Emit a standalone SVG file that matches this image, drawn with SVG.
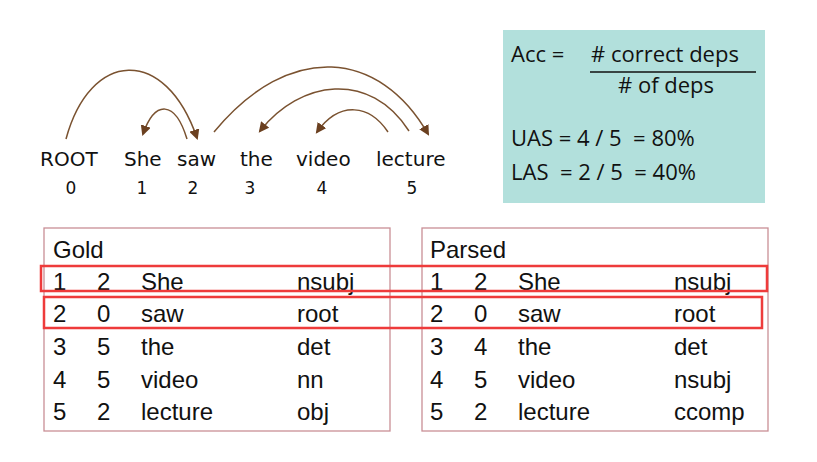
<svg xmlns="http://www.w3.org/2000/svg" width="817" height="462" viewBox="0 0 817 462">
<style>
.w{font-family:"DejaVu Sans",sans-serif;font-size:20px;fill:#111}
.n{font-family:"DejaVu Sans",sans-serif;font-size:17px;fill:#111;text-anchor:middle}
.t{font-family:"Liberation Sans",Arial,sans-serif;font-size:24px;fill:#111}
.a{font-family:"Open Sans",sans-serif;font-size:22px;fill:#111}
.arc{fill:none;stroke:#7a5230;stroke-width:1.5;marker-end:url(#ah)}
.box{fill:#fff;stroke:#c98f96;stroke-width:1.3}
.hl{fill:none;stroke:#ee3b3b;stroke-width:2.5}
</style>
<defs><marker id="ah" viewBox="0 0 10 10" refX="8" refY="5" markerWidth="7" markerHeight="7" orient="auto"><path d="M0,0L10,5L0,10z" fill="#6b4020"/></marker></defs>
<rect width="817" height="462" fill="#fff"/>
<g id="words">
<text class="w" x="40" y="166">ROOT</text><text class="w" x="124" y="166">She</text><text class="w" x="177" y="166">saw</text><text class="w" x="240" y="166">the</text><text class="w" x="296" y="166">video</text><text class="w" x="376" y="166">lecture</text>
<text class="n" x="71" y="194">0</text><text class="n" x="142" y="194">1</text><text class="n" x="193" y="194">2</text><text class="n" x="250" y="194">3</text><text class="n" x="322" y="194">4</text><text class="n" x="412" y="194">5</text>
</g>
<g id="connectors">
<path class="arc" d="M66,139 C90,50 165,45 197,138"/>
<path class="arc" d="M187,139 C175,100 155,100 143,134"/>
<path class="arc" d="M214,132 C290,40 380,50 428,134"/>
<path class="arc" d="M409,131 C370,70 300,80 260,131"/>
<path class="arc" d="M388,132 C370,105 340,100 317,132"/>
</g>
<g id="acc">
<rect x="503" y="30" width="262" height="173" fill="#b2e0dc"/>
<text class="a" x="511" y="62">Acc  =</text>
<text class="a" x="591" y="62"># correct deps</text>
<line x1="590" y1="72" x2="756" y2="72" stroke="#111" stroke-width="1.5"/>
<text class="a" x="666" y="93" text-anchor="middle"># of deps</text>
<text class="a" x="511" y="146" xml:space="preserve">UAS = 4 / 5  = 80%</text>
<text class="a" x="511" y="180" xml:space="preserve">LAS  = 2 / 5  = 40%</text>
</g>
<g id="gold">
<rect class="box" x="44" y="228" width="346" height="203"/>
<text class="t" x="53" y="258">Gold</text>
<g class="t"><text x="53" y="290">1</text><text x="97" y="290">2</text><text x="141" y="290">She</text><text x="297" y="290">nsubj</text>
<text x="53" y="322">2</text><text x="97" y="322">0</text><text x="141" y="322">saw</text><text x="297" y="322">root</text>
<text x="53" y="355">3</text><text x="97" y="355">5</text><text x="141" y="355">the</text><text x="297" y="355">det</text>
<text x="53" y="388">4</text><text x="97" y="388">5</text><text x="141" y="388">video</text><text x="297" y="388">nn</text>
<text x="53" y="420">5</text><text x="97" y="420">2</text><text x="141" y="420">lecture</text><text x="297" y="420">obj</text></g>
</g>
<g id="parsed">
<rect class="box" x="422" y="228" width="346" height="203"/>
<text class="t" x="430" y="258">Parsed</text>
<g class="t"><text x="430" y="290">1</text><text x="474" y="290">2</text><text x="518" y="290">She</text><text x="674" y="290">nsubj</text>
<text x="430" y="322">2</text><text x="474" y="322">0</text><text x="518" y="322">saw</text><text x="674" y="322">root</text>
<text x="430" y="355">3</text><text x="474" y="355">4</text><text x="518" y="355">the</text><text x="674" y="355">det</text>
<text x="430" y="388">4</text><text x="474" y="388">5</text><text x="518" y="388">video</text><text x="674" y="388">nsubj</text>
<text x="430" y="420">5</text><text x="474" y="420">2</text><text x="518" y="420">lecture</text><text x="674" y="420">ccomp</text></g>
</g>
<g id="highlights">
<rect class="hl" x="41" y="266" width="726" height="25"/>
<rect class="hl" x="44" y="297" width="718" height="31"/>
</g>
</svg>
